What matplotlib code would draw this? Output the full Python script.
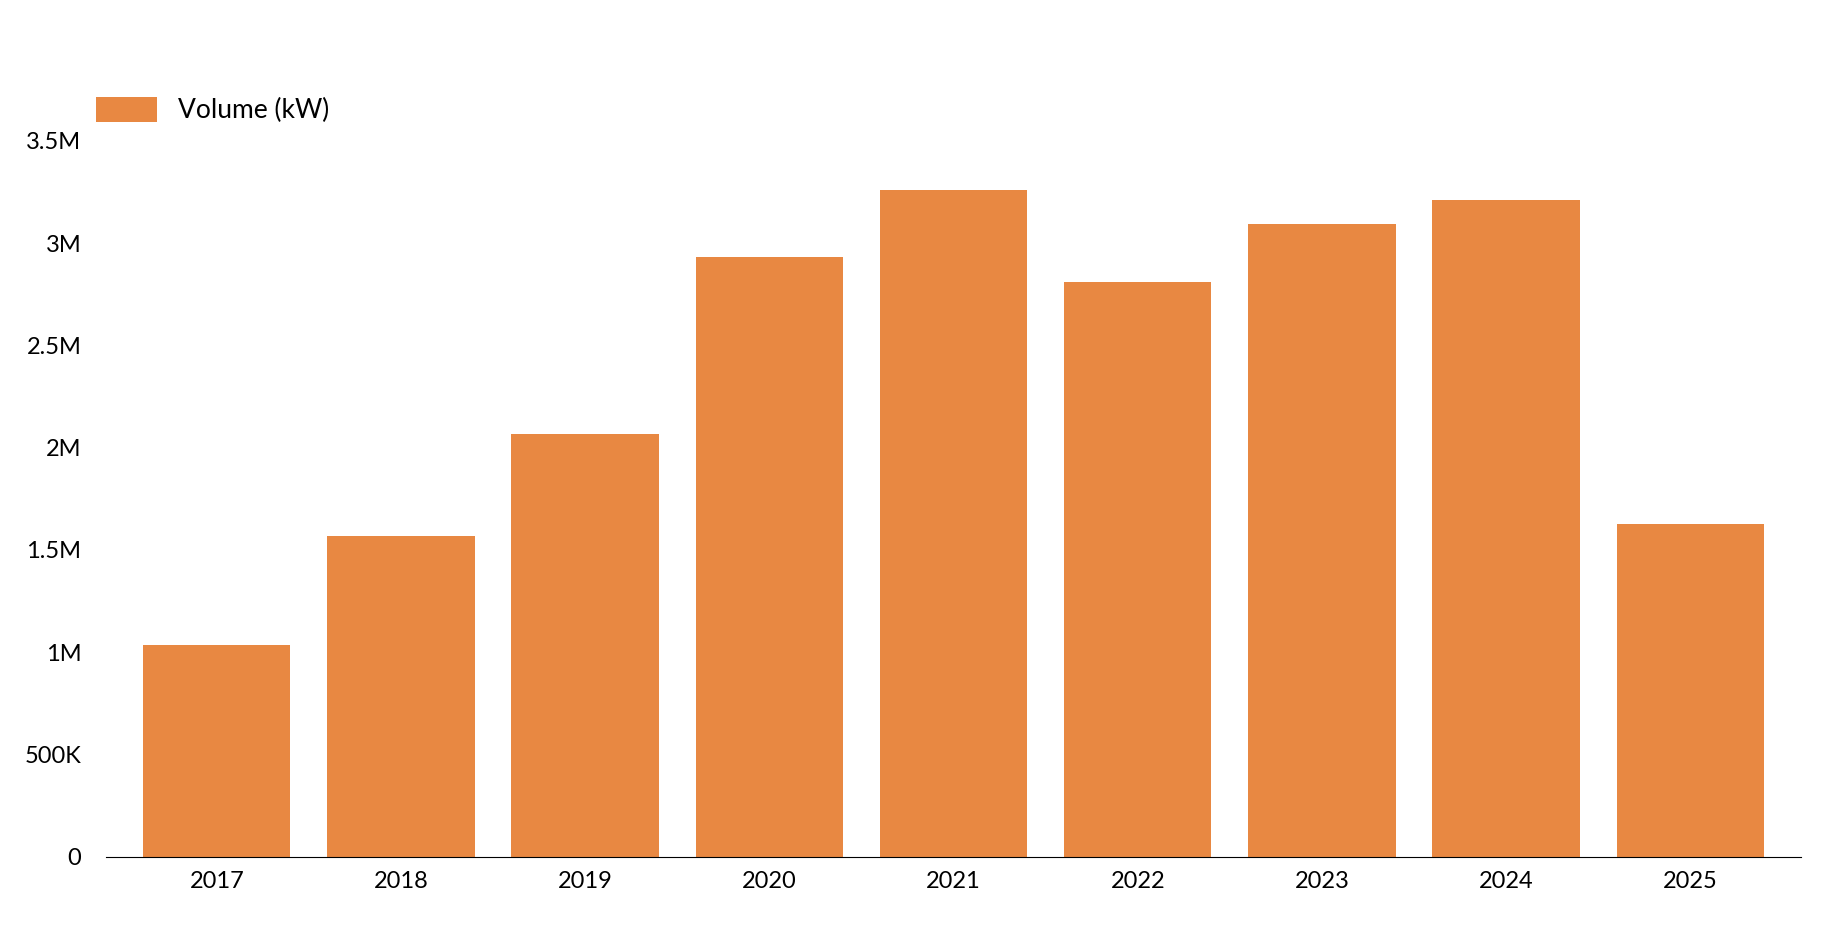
import matplotlib.pyplot as plt
from matplotlib.ticker import FuncFormatter

years = ['2017', '2018', '2019', '2020', '2021', '2022', '2023', '2024', '2025']
volume_kw = [1035000, 1568000, 2068000, 2930000, 3258000, 2812000, 3092000, 3212000, 1625000]

plt.rcParams['font.family'] = ['Lato', 'DejaVu Sans']
BAR_COLOR = '#E88842'

fig = plt.figure(figsize=(18.32, 9.52), dpi=100)
ax = fig.add_axes([0.058, 0.10, 0.925, 0.752])

ax.bar(years, volume_kw, color=BAR_COLOR, width=0.8, label='Volume (kW)')
ax.set_xlim(-0.6, 8.6)
ax.set_ylim(0, 3500000)
ax.set_yticks([0, 500000, 1000000, 1500000, 2000000, 2500000, 3000000, 3500000])


def fmt(v, pos):
    if v == 0:
        return '0'
    if v >= 1e6:
        return f"{v/1e6:g}M"
    return f"{v/1e3:g}K"


ax.yaxis.set_major_formatter(FuncFormatter(fmt))
for s in ['top', 'right', 'left']:
    ax.spines[s].set_visible(False)
ax.spines['bottom'].set_color('black')
ax.tick_params(axis='y', length=0, labelsize=17, pad=18)
ax.tick_params(axis='x', length=0, labelsize=17, pad=10)
for lbl in ax.get_yticklabels():
    lbl.set_horizontalalignment('right')

ax.legend(loc='lower left', bbox_to_anchor=(-0.012, 1.01), frameon=False, fontsize=19,
          handlelength=2.3, handleheight=1.1, borderaxespad=0)

fig.savefig('out.png', dpi=100)
